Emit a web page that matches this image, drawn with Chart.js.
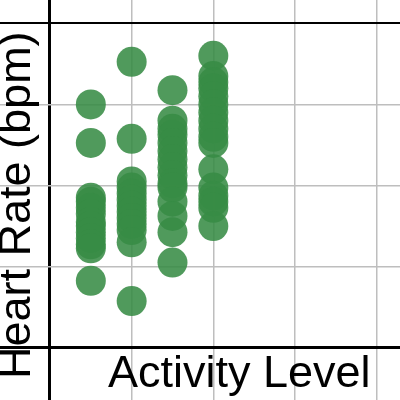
<!doctype html>
<html lang="en">

<head>
    <meta charset="utf-8">
    <title>Heart Rate vs Activity Level</title>
    <style>
        body { margin: 0; background: #fff; }
        #wrap { width: 400px; height: 400px; }
    </style>
</head>
<body>
    <div id="wrap">
        <canvas id="scatterChart" width="400" height="400"></canvas>
    </div>
    <script src="https://cdn.jsdelivr.net/npm/chart.js@4.4.1/dist/chart.umd.min.js"></script>
    <script>
        // activity levels for each column of readings
        var levels = [1, 2, 3, 4];

        // heart rate readings (bpm) per activity level
        var level1Rates = [100, 90.5, 77, 76, 74.5, 73, 71, 70, 68.5, 67, 65.5, 64.5, 56.5];
        var level2Rates = [110.5, 91.5, 81, 79.5, 78, 76.5, 75, 73.5, 72, 70.5, 69, 66, 51.5];
        var level3Rates = [103.5, 96, 94, 92.5, 90.5, 88.5, 86.5, 84.5, 82.5, 80.5, 79.5, 76, 72.5, 68.5, 61];
        var level4Rates = [112, 107, 105.5, 104, 102, 100, 98, 96, 94, 92, 90.5, 84, 79.5, 77.5, 76, 74.5, 70];

        var xTitle = 'Activity Level';
        var yTitle = 'Heart Rate (bpm)';

        var allRates = [level1Rates, level2Rates, level3Rates, level4Rates];
        var points = [];
        allRates.forEach(function(rates, i) {
            rates.forEach(function(r) {
                points.push({x: levels[i], y: r});
            });
        });

        var gray = 'rgb(190,190,190)';

        var titlesPlugin = {
            id: 'titles',
            afterDraw: function(chart) {
                var ctx = chart.ctx;
                ctx.save();
                ctx.fillStyle = '#000';
                ctx.font = '45px "Liberation Sans", Arial, sans-serif';
                ctx.textBaseline = 'alphabetic';
                ctx.textAlign = 'left';
                ctx.fillText(xTitle, 108, 387);
                ctx.translate(30, 379);
                ctx.rotate(-Math.PI / 2);
                ctx.fillText(yTitle, 0, 0);
                ctx.restore();
            }
        };

        var chartElement = document.getElementById('scatterChart').getContext('2d');
        var scatterChart = new Chart(chartElement, {
            type: 'scatter',
            data: {
                datasets: [{
                    data: points,
                    backgroundColor: 'rgba(56,140,70,0.88)',
                    borderWidth: 0,
                    pointRadius: 15,
                    pointHoverRadius: 15
                }]
            },
            options: {
                responsive: false,
                animation: false,
                events: [],
                layout: { padding: 0, autoPadding: false },
                plugins: {
                    legend: { display: false },
                    tooltip: { enabled: false }
                },
                scales: {
                    x: {
                        type: 'linear',
                        min: -1.2245,
                        max: 8.572,
                        ticks: { display: false, stepSize: 2, includeBounds: false },
                        border: { display: false },
                        grid: {
                            drawTicks: false,
                            color: function(c) { return c.tick.value === 0 ? '#000' : gray; },
                            lineWidth: function(c) { return c.tick.value === 0 ? 3 : 1.5; }
                        }
                    },
                    y: {
                        type: 'linear',
                        min: 27.1,
                        max: 125.75,
                        ticks: { display: false, stepSize: 20, includeBounds: false },
                        border: { display: false },
                        grid: {
                            drawTicks: false,
                            color: function(c) { return (c.tick.value === 40 || c.tick.value === 120) ? '#000' : gray; },
                            lineWidth: function(c) { return c.tick.value === 40 ? 3 : (c.tick.value === 120 ? 2 : 1.5); }
                        }
                    }
                }
            },
            plugins: [titlesPlugin]
        });
    </script>
</body>
</html>
